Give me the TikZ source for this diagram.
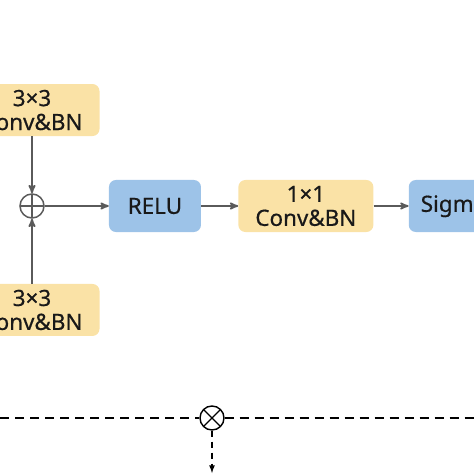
\documentclass[tikz,border=0pt]{standalone}
\usepackage{fontspec}
\setmainfont{Noto Sans}
\newfontfamily\boxfont{Noto Sans}[FakeBold=0.5]
\usepackage{xcolor}
\usetikzlibrary{arrows, positioning}
\definecolor{convyellow}{RGB}{250,226,166}
\definecolor{actblue}{RGB}{157,195,232}
\definecolor{arrowgray}{RGB}{90,90,90}
\tikzset{
  blk/.style = {align=center, rounded corners=7bp, inner sep=0pt,
    font=\boxfont\fontsize{22.5}{24}\selectfont, text=black!90},
  conv/.style = {blk, fill=convyellow, minimum width=135bp,
    minimum height=52bp},
  act/.style = {blk, fill=actblue, minimum width=92bp,
    minimum height=52bp},
  addop/.style = {circle, draw=arrowgray, line width=1.5bp,
    minimum size=24bp, inner sep=0pt,
    path picture={\draw[arrowgray, line width=1.5bp]
      (path picture bounding box.north) -- (path picture bounding box.south)
      (path picture bounding box.west) -- (path picture bounding box.east);}},
  mulop/.style = {circle, draw=black, line width=1.4bp,
    minimum size=24bp, inner sep=0pt,
    path picture={\draw[black, line width=1.4bp]
      (path picture bounding box.north west) -- (path picture bounding box.south east)
      (path picture bounding box.north east) -- (path picture bounding box.south west);}},
  flow/.style = {->, draw=arrowgray, line width=1.8bp},
  dashline/.style = {draw=black, line width=1.6bp, dash pattern=on 9bp off 6bp}
}
\begin{document}
\begin{tikzpicture}[x=1bp, y=-1bp, >=stealth']
\useasboundingbox (0,0) rectangle (474,474);
\clip (0,0) rectangle (474,474);

% branch sum
\node [addop] (sum) at (32,206) {};
\node [conv, above=57bp of sum] (convtop) {3×3\\Conv\&BN};
\node [conv, below=65bp of sum] (convbot) {3×3\\Conv\&BN};

% main path
\node [act, right=64bp of sum] (relu) {RELU};
\node [conv, right=37bp of relu] (convone) {1×1\\Conv\&BN};
\node [act, right=35bp of convone, minimum width=110bp] (sig) {Sigmoid};

\draw [flow] (convtop) -- (sum);
\draw [flow] (convbot) -- (sum);
\draw [flow] (sum) -- (relu);
\draw [flow] (relu) -- (convone);
\draw [flow] (convone) -- (sig);

% dashed product line
\node [mulop] (mul) at (212,418) {};
\coordinate (lin) at (0,418);
\coordinate (rin) at (474,418);
\coordinate (out) at (212,473);
\draw [dashline] (lin) -- (mul);
\draw [dashline] (mul) -- (rin);
\draw [dashline, dash pattern=on 6bp off 5bp, ->, >=latex] (mul) -- (out);
\end{tikzpicture}
\end{document}
